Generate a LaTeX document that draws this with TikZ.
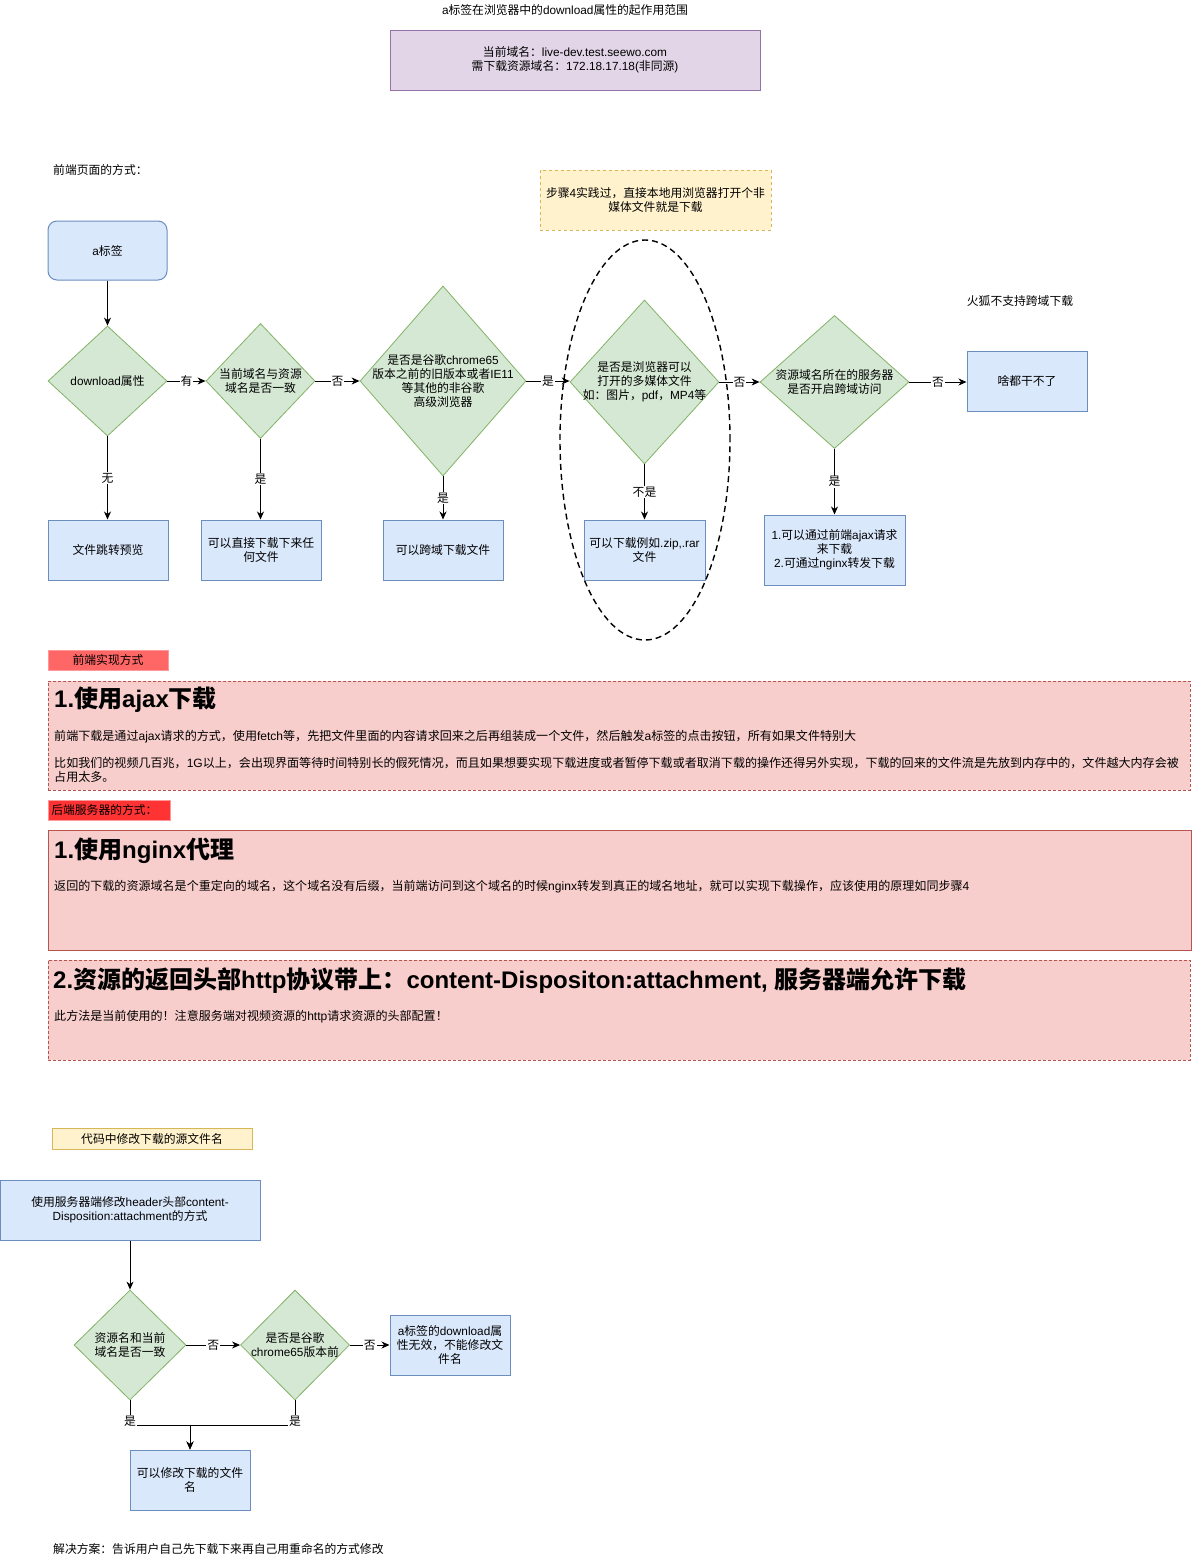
\documentclass[tikz,border=0pt]{standalone}
\usepackage{fontspec}
\setmainfont{Liberation Sans}
\newfontfamily\cjkfont{Noto Sans CJK SC}
\usetikzlibrary{shapes.geometric,arrows.meta}
\XeTeXinterchartokenstate=1
\newXeTeXintercharclass\CJKcls
\makeatletter
\count@="3000
\loop\XeTeXcharclass\count@=\CJKcls\advance\count@ 1 \ifnum\count@<"3040 \repeat
\count@="4E00
\loop\XeTeXcharclass\count@=\CJKcls\advance\count@ 1 \ifnum\count@<"A000 \repeat
\count@="FF00
\loop\XeTeXcharclass\count@=\CJKcls\advance\count@ 1 \ifnum\count@<"FFF0 \repeat
\makeatother
\XeTeXinterchartoks 0 \CJKcls = {\cjkfont}
\XeTeXinterchartoks 4095 \CJKcls = {\cjkfont}
\XeTeXinterchartoks \CJKcls 0 = {\rmfamily}
\XeTeXinterchartoks 4095 0 = {\rmfamily}
\definecolor{bfill}{HTML}{DAE8FC}\definecolor{bdraw}{HTML}{6C8EBF}
\definecolor{gfill}{HTML}{D5E8D4}\definecolor{gdraw}{HTML}{82B366}
\definecolor{pfill}{HTML}{E1D5E7}\definecolor{pdraw}{HTML}{9673A6}
\definecolor{yfill}{HTML}{FFF2CC}\definecolor{ydraw}{HTML}{D6B656}
\definecolor{rfill}{HTML}{F8CECC}\definecolor{rdraw}{HTML}{B85450}
\definecolor{lab1}{HTML}{FF6666}\definecolor{lab2}{HTML}{FF3333}
\definecolor{labd}{HTML}{FF9999}
\begin{document}
\begin{tikzpicture}[x=1pt,y=-1pt,
  every node/.style={font=\fontsize{11.8}{14}\selectfont, text=black},
  box/.style={draw=bdraw, fill=bfill, line width=1pt, minimum width=120pt, minimum height=60pt, align=center, inner sep=2pt},
  dia/.style={diamond, draw=gdraw, fill=gfill, line width=0.8pt, inner sep=0pt},
  arr/.style={-{Stealth[length=8pt,width=7pt,inset=2.5pt]}, line width=0.9pt},
  lbl/.style={fill=white, inner sep=1pt},
  txt/.style={inner sep=0pt, align=left},
  body/.style={inner sep=0pt, align=left, font=\fontsize{12.05}{14}\selectfont},
  sec/.style={draw=rdraw, fill=rfill, line width=0.8pt, anchor=north west, inner sep=0pt},
  head/.style={inner sep=0pt, anchor=west, font=\fontsize{24}{28}\selectfont\bfseries},
]
\useasboundingbox (0,0) rectangle (1192,1561);
\fill[white] (0,0) rectangle (1192,1561);

% ---- top
\node (title) at (565,10) {a标签在浏览器中的download属性的起作用范围};
\node[draw=pdraw, fill=pfill, line width=0.8pt, minimum width=370pt, minimum height=60pt, align=center] (dom) at (575,60)
  {当前域名：live-dev.test.seewo.com\\需下载资源域名：172.18.17.18(非同源)};
\node[txt, anchor=west] (fe) at (53,170) {前端页面的方式：};
\node[draw=ydraw, fill=yfill, dash pattern=on 3pt off 3pt, line width=0.8pt, minimum width=231pt, minimum height=60pt, align=center] (note) at (655.5,200)
  {步骤4实践过，直接本地用浏览器打开个非\\媒体文件就是下载};

% ---- flow
\node[box, rounded corners=9pt, minimum width=119pt, minimum height=59pt] (atag) at (107.5,250.5) {a标签};
\node[dia, minimum width=119pt, minimum height=110pt, label={center:download属性}] (d1) at (107.5,381) {};
\node[dia, minimum width=109pt, minimum height=115pt, label={[align=center]center:当前域名与资源\\域名是否一致}] (d2) at (260.5,381) {};
\node[dia, minimum width=166pt, minimum height=190pt, label={[align=center]center:是否是谷歌chrome65\\版本之前的旧版本或者IE11\\等其他的非谷歌\\高级浏览器}] (d3) at (443,381) {};
\node[dia, minimum width=149pt, minimum height=164pt, label={[align=center]center:是否是浏览器可以\\打开的多媒体文件\\如：图片，pdf，MP4等}] (d4) at (644.5,382) {};
\node[dia, minimum width=149pt, minimum height=133pt, label={[align=center]center:资源域名所在的服务器\\是否开启跨域访问}] (d5) at (834.5,382) {};

\node[box] (b1) at (108,550) {文件跳转预览};
\node[box] (b2) at (261,550) {可以直接下载下来任\\何文件};
\node[box] (b3) at (443,550) {可以跨域下载文件};
\node[box, minimum width=121pt] (b4) at (644.5,550) {可以下载例如.zip,.rar\\文件};
\node[box, minimum width=141pt, minimum height=70pt] (b5) at (834.5,550) {1.可以通过前端ajax请求\\来下载\\2.可通过nginx转发下载};
\node[box] (b6) at (1027,381) {啥都干不了};
\node (ff) at (1020,301) {火狐不支持跨域下载};

\draw[arr] (atag) -- (d1);
\draw[arr] (d1.east) -- node[lbl]{有} (d2.west);
\draw[arr] (d2.east) -- node[lbl]{否} (d3.west);
\draw[arr] (d3.east) -- node[lbl]{是} (d4.west |- d3.east);
\draw[arr] (d4.east) -- node[lbl]{否} (d5.west);
\draw[arr] (d5.east) -- node[lbl]{否} (b6.west |- d5.east);
\draw[arr] (d1.south) -- node[lbl]{无} (b1.north -| d1.south);
\draw[arr] (d2.south) -- node[lbl]{是} (b2.north -| d2.south);
\draw[arr] (d3.south) -- node[lbl]{是} (b3.north);
\draw[arr] (d4.south) -- node[lbl]{不是} (b4.north -| d4.south);
\draw[arr] (d5.south) -- node[lbl]{是} (b5.north);

\node[ellipse, draw, line width=1.4pt, dash pattern=on 6pt off 4pt, minimum width=170pt, minimum height=400pt] (ell) at (645,440) {};

% ---- sections
\node[fill=lab1, draw=labd, line width=0.6pt, minimum width=120pt, minimum height=20pt] (s1) at (108,660) {前端实现方式};
\node[sec, dash pattern=on 3pt off 2pt, minimum width=1142pt, minimum height=109pt] (box1) at (48,681) {};
\node[head] (h1) at (54,700) {1.使用ajax下载};
\node[body, anchor=west] (t1a) at (54,737) {前端下载是通过ajax请求的方式，使用fetch等，先把文件里面的内容请求回来之后再组装成一个文件，然后触发a标签的点击按钮，所有如果文件特别大};
\node[body, anchor=north west] (t1b) at (54,757) {比如我们的视频几百兆，1G以上，会出现界面等待时间特别长的假死情况，而且如果想要实现下载进度或者暂停下载或者取消下载的操作还得另外实现，下载的回来的文件流是先放到内存中的，文件越大内存会被\\占用太多。};

\node[fill=lab2, draw=labd, line width=0.6pt, anchor=north west, minimum width=122pt, minimum height=20pt, text width=116pt, inner sep=3pt, align=left] (s2) at (48,800) {后端服务器的方式：};
\node[sec, minimum width=1143pt, minimum height=120pt] (box2) at (48,830) {};
\node[head] (h2) at (54,851) {1.使用nginx代理};
\node[body, anchor=west] (t2) at (54,887) {返回的下载的资源域名是个重定向的域名，这个域名没有后缀，当前端访问到这个域名的时候nginx转发到真正的域名地址，就可以实现下载操作，应该使用的原理如同步骤4};

\node[sec, dash pattern=on 3pt off 2pt, minimum width=1142pt, minimum height=100pt] (box3) at (48,960) {};
\node[head] (h3) at (53,981) {2.资源的返回头部http协议带上：content-Dispositon:attachment, 服务器端允许下载};
\node[body, anchor=west] (t3) at (54,1017) {此方法是当前使用的！注意服务端对视频资源的http请求资源的头部配置！};

% ---- bottom flow
\node[draw=ydraw, fill=yfill, line width=0.8pt, minimum width=200pt, minimum height=21pt] (y2) at (152,1138.5) {代码中修改下载的源文件名};
\node[box, minimum width=260pt] (top) at (130,1210) {使用服务器端修改header头部content-\\Disposition:attachment的方式};
\node[dia, minimum width=112pt, minimum height=110pt, label={[align=center]center:资源名和当前\\域名是否一致}] (A) at (130,1345) {};
\node[dia, minimum width=109pt, minimum height=110pt, label={[align=center]center:是否是谷歌\\chrome65版本前}] (B) at (295,1345) {};
\node[box] (C) at (450,1345) {a标签的download属\\性无效，不能修改文\\件名};
\node[box] (D) at (190,1480) {可以修改下载的文件\\名};

\draw[arr] (top) -- (A);
\draw[arr] (A.east) -- node[lbl]{否} (B.west);
\draw[arr] (B.east) -- node[lbl]{否} (C.west);
\draw[arr] (A.south) -- node[lbl, pos=0.85]{是} ++(0,25) -| (D.north);
\draw[arr] (B.south) -- node[lbl, pos=0.85]{是} ++(0,25) -| (D.north);
\node[txt, anchor=west] (sol) at (53,1549) {解决方案：告诉用户自己先下载下来再自己用重命名的方式修改};
\end{tikzpicture}
\end{document}
